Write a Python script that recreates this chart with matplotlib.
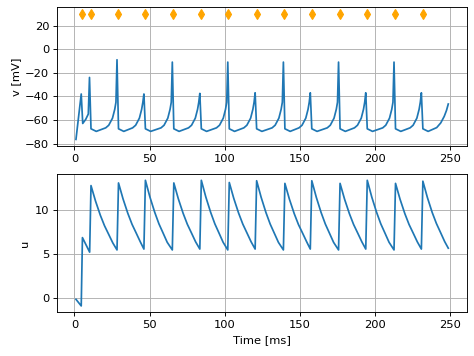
import numpy as np
import matplotlib
matplotlib.use('Agg')
import matplotlib.pyplot as plt
from matplotlib.ticker import MultipleLocator

# membrane potential (time in ms, v in mV)
v_time = [1.0, 4.5, 5.5, 7.5, 9.2, 10.0,
          11.0, 14.5, 20.8, 22.8, 25.3, 26.8, 27.6, 28.3,
          29.3, 32.8, 38.7, 40.7, 43.2, 44.7, 45.5, 46.2,
          47.2, 50.7, 57.6, 59.6, 62.1, 63.6, 64.4, 65.1,
          66.1, 69.6, 75.9, 77.9, 80.4, 81.9, 82.7, 83.4,
          84.4, 87.9, 94.5, 96.5, 99.0, 100.5, 101.3, 102.0,
          103.0, 106.5, 112.7, 114.7, 117.2, 118.7, 119.5, 120.2,
          121.2, 124.7, 131.5, 133.5, 136.0, 137.5, 138.3, 139.0,
          140.0, 143.5, 149.4, 151.4, 153.9, 155.4, 156.2, 156.9,
          157.9, 161.4, 168.2, 170.2, 172.7, 174.2, 175.0, 175.7,
          176.7, 180.2, 186.3, 188.3, 190.8, 192.3, 193.1, 193.8,
          194.8, 198.3, 205.1, 207.1, 209.6, 211.1, 211.9, 212.6,
          213.6, 217.1, 223.3, 225.3, 227.8, 229.3, 230.1, 230.8,
          231.8, 235.3, 241.0, 243.7, 246.0, 247.5, 248.7]
v_vals = [-76.5, -38.0, -63.0, -59.5, -55.0, -24.0,
          -67.5, -69.7, -66.7, -64.5, -58.5, -51.0, -45.0, -9.0,
          -67.5, -69.7, -66.7, -64.5, -58.5, -51.0, -45.0, -38.0,
          -67.5, -69.7, -66.7, -64.5, -58.5, -51.0, -45.0, -11.0,
          -67.5, -69.7, -66.7, -64.5, -58.5, -51.0, -45.0, -37.5,
          -67.5, -69.7, -66.7, -64.5, -58.5, -51.0, -45.0, -11.0,
          -67.5, -69.7, -66.7, -64.5, -58.5, -51.0, -45.0, -37.0,
          -67.5, -69.7, -66.7, -64.5, -58.5, -51.0, -45.0, -11.0,
          -67.5, -69.7, -66.7, -64.5, -58.5, -51.0, -45.0, -37.0,
          -67.5, -69.7, -66.7, -64.5, -58.5, -51.0, -45.0, -11.0,
          -67.5, -69.7, -66.7, -64.5, -58.5, -51.0, -45.0, -37.0,
          -67.5, -69.7, -66.7, -64.5, -58.5, -51.0, -45.0, -11.0,
          -67.5, -69.7, -66.7, -64.5, -58.5, -51.0, -45.0, -37.0,
          -67.5, -69.7, -66.5, -62.5, -57.0, -52.0, -46.5]

# recovery variable u
u_time = [1.0, 4.5, 5.3, 10.1,
          11.0, 14.0, 17.2, 20.0, 22.7, 25.5, 28.3,
          29.3, 32.3, 35.5, 38.3, 41.0, 43.8, 46.2,
          47.2, 50.2, 53.4, 56.2, 58.9, 61.7, 65.1,
          66.1, 69.1, 72.3, 75.1, 77.8, 80.6, 83.4,
          84.4, 87.4, 90.6, 93.4, 96.1, 98.9, 102.0,
          103.0, 106.0, 109.2, 112.0, 114.7, 117.5, 120.2,
          121.2, 124.2, 127.4, 130.2, 132.9, 135.7, 139.0,
          140.0, 143.0, 146.2, 149.0, 151.7, 154.5, 156.9,
          157.9, 160.9, 164.1, 166.9, 169.6, 172.4, 175.7,
          176.7, 179.7, 182.9, 185.7, 188.4, 191.2, 193.8,
          194.8, 197.8, 201.0, 203.8, 206.5, 209.3, 212.6,
          213.6, 216.6, 219.8, 222.6, 225.3, 228.1, 230.8,
          231.8, 234.8, 238.0, 240.8, 243.5, 246.3, 248.7]
u_vals = [-0.1, -0.85, 6.9, 5.25,
          12.8, 11.05, 9.44, 8.24, 7.29, 6.3, 5.5,
          13.1, 11.3, 9.65, 8.41, 7.44, 6.42, 5.6,
          13.4, 11.5, 9.77, 8.46, 7.44, 6.37, 5.5,
          13.1, 11.3, 9.65, 8.41, 7.44, 6.42, 5.6,
          13.4, 11.5, 9.77, 8.46, 7.44, 6.37, 5.5,
          13.15, 11.34, 9.68, 8.43, 7.45, 6.43, 5.6,
          13.35, 11.47, 9.74, 8.44, 7.42, 6.36, 5.5,
          13.05, 11.26, 9.62, 8.39, 7.43, 6.42, 5.6,
          13.35, 11.47, 9.74, 8.44, 7.42, 6.36, 5.5,
          13.05, 11.26, 9.62, 8.39, 7.43, 6.42, 5.6,
          13.4, 11.5, 9.77, 8.46, 7.44, 6.37, 5.5,
          13.05, 11.26, 9.62, 8.39, 7.43, 6.42, 5.6,
          13.3, 11.45, 9.75, 8.5, 7.5, 6.45, 5.7]

# spike markers
spike_times = [5.2, 10.7, 29.0, 47.1, 65.7, 84.3, 102.4, 121.2,
               139.6, 157.8, 176.6, 194.5, 213.1, 231.7]
spike_level = 30

# reference looks like a default figure saved tight and shrunk to ~0.825
dpi = 82.5
fig, (ax1, ax2) = plt.subplots(2, 1, figsize=(474 / dpi, 356 / dpi), dpi=dpi, sharex=True)
fig.subplots_adjust(left=0.121, right=0.985, top=0.979, bottom=0.123, hspace=0.205)

ax1.plot(v_time, v_vals)
ax1.plot(spike_times, [spike_level] * len(spike_times), 'd', color='orange')
ax1.set_ylabel('v [mV]')
ax1.yaxis.set_major_locator(MultipleLocator(20))
ax1.grid()
ax1.tick_params(labelbottom=True)

ax2.plot(u_time, u_vals)
ax2.set_ylabel('u')
ax2.set_xlabel('Time [ms]')
ax2.grid()

plt.savefig('out.png')
